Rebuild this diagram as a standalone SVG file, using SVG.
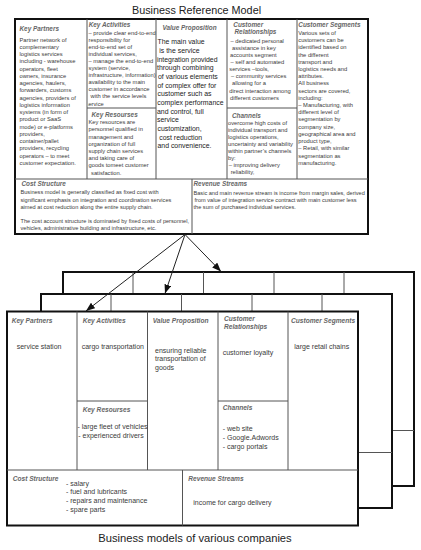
<svg xmlns="http://www.w3.org/2000/svg" xmlns:xlink="http://www.w3.org/1999/xlink" width="421" height="550" viewBox="0 0 421 550">
<style>
text { font-family: "Liberation Sans", Arial, sans-serif; }
.ti { font-size: 10.8px; fill: #222; }
.cap { font-size: 11.2px; fill: #222; }
.h { font-size: 6.4px; font-weight: bold; font-style: italic; fill: #666; }
.hf { font-size: 6.6px; font-weight: bold; font-style: italic; fill: #666; }
.t { font-size: 5.75px; fill: #3a3a3a; }
.tc { font-size: 5.6px; fill: #3a3a3a; }
.vp { font-size: 6.9px; fill: #222; }
.b { font-size: 7px; fill: #3a3a3a; }
.outer { fill: #fff; stroke: #111; stroke-width: 2; }
.div { fill: none; stroke: #555; stroke-width: 1; }
.con { stroke: #222; stroke-width: 1; fill: none; }
</style>
<defs>
<marker id="ah" markerUnits="userSpaceOnUse" markerWidth="9" markerHeight="7" refX="9" refY="3.5" orient="auto">
<path d="M0,0 L9,3.5 L0,7 z" fill="#111"/>
</marker>
<clipPath id="clipKA"><rect x="88" y="19" width="68" height="89"/></clipPath>
<g id="grid">
<rect class="outer" x="0" y="0" width="351" height="214"/>
<path class="div" d="M70 0 V158.5 M140.5 0 V158.5 M211 0 V158.5 M281 0 V158.5 M70 89.5 H140.5 M211 89.5 H281 M0 158.5 H351 M175.5 158.5 V214"/>
</g>
</defs>
<rect width="421" height="550" fill="#fff"/>

<g id="title">
<text class="ti" x="132" y="13.5">Business Reference Model</text>
</g>

<g id="reference-model">
<rect class="outer" x="15" y="19" width="353" height="215"/>
<path class="div" d="M87 19 V179 M156 19 V179 M227 19 V179 M297 19 V179 M87 108 H156 M227 108 H297 M15 179 H368 M192 179 V234"/>

<g id="ref-key-partners">
<text class="h" x="19.5" y="30.5">Key Partners</text>
<text class="t">
<tspan x="19.5" y="41.5">Partner network of</tspan>
<tspan x="19.5" y="48.8">complementary</tspan>
<tspan x="19.5" y="56">logistics services</tspan>
<tspan x="19.5" y="63.3">including - warehouse</tspan>
<tspan x="19.5" y="70.5">operators, fleet</tspan>
<tspan x="19.5" y="77.8">owners, insurance</tspan>
<tspan x="19.5" y="85.1">agencies, haulers,</tspan>
<tspan x="19.5" y="92.3">forwarders, customs</tspan>
<tspan x="19.5" y="99.6">agencies, providers of</tspan>
<tspan x="19.5" y="106.8">logistics information</tspan>
<tspan x="19.5" y="114.1">systems (in form of</tspan>
<tspan x="19.5" y="121.4">product or SaaS</tspan>
<tspan x="19.5" y="128.6">mode) or e-platforms</tspan>
<tspan x="19.5" y="135.9">providers,</tspan>
<tspan x="19.5" y="143.1">container/pallet</tspan>
<tspan x="19.5" y="150.4">providers, recycling</tspan>
<tspan x="19.5" y="157.7">operators – to meet</tspan>
<tspan x="19.5" y="164.9">customer expectation.</tspan>
</text>
</g>

<g id="ref-key-activities" clip-path="url(#clipKA)">
<text class="h" x="88.7" y="26.5">Key Activities</text>
<text class="t">
<tspan x="88.5" y="34.5">– provide clear end-to-end</tspan>
<tspan x="88.5" y="41.6">responsibility for</tspan>
<tspan x="88.5" y="48.7">end-to-end set of</tspan>
<tspan x="88.5" y="55.8">individual services,</tspan>
<tspan x="88.5" y="62.9">– manage the end-to-end</tspan>
<tspan x="88.5" y="70">system (service,</tspan>
<tspan x="88.5" y="77.1">infrastructure, information)</tspan>
<tspan x="88.5" y="84.2">availability to the main</tspan>
<tspan x="88.5" y="91.3">customer in accordance</tspan>
<tspan x="90.5" y="98.4">with the service levels</tspan>
<tspan x="85.5" y="105.5">service</tspan>
</text>
</g>

<g id="ref-key-resourses">
<text class="h" x="91.5" y="116.5">Key Resourses</text>
<text class="t">
<tspan x="88.5" y="124">Key resources are</tspan>
<tspan x="88.5" y="131.2">personnel qualified in</tspan>
<tspan x="88.5" y="138.5">management and</tspan>
<tspan x="88.5" y="145.7">organization of full</tspan>
<tspan x="88.5" y="153">supply chain services</tspan>
<tspan x="88.5" y="160.2">and taking care of</tspan>
<tspan x="88.5" y="167.4">goods tomeet customer</tspan>
<tspan x="91" y="174.7">satisfaction.</tspan>
</text>
</g>

<g id="ref-value-proposition">
<text class="h" x="162.5" y="30">Value Proposition</text>
<text class="vp">
<tspan x="157.5" y="44.2">The main value</tspan>
<tspan x="159.3" y="52.9">is the service</tspan>
<tspan x="157" y="61.5">integration provided</tspan>
<tspan x="157" y="70.2">through combining</tspan>
<tspan x="158" y="78.9">of various elements</tspan>
<tspan x="157.5" y="87.5">of complex offer for</tspan>
<tspan x="157.5" y="96.2">customer such as</tspan>
<tspan x="157.3" y="104.9">complex performance</tspan>
<tspan x="157" y="113.6">and control, full</tspan>
<tspan x="157" y="122.2">service</tspan>
<tspan x="157.5" y="130.9">customization,</tspan>
<tspan x="159.3" y="139.5">cost reduction</tspan>
<tspan x="157.5" y="148.2">and convenience.</tspan>
</text>
</g>

<g id="ref-customer-relationships">
<text class="h"><tspan x="233.3" y="26.5">Customer</tspan><tspan x="234.5" y="34">Relationships</tspan></text>
<text class="t">
<tspan x="230.5" y="42.5">– dedicated personal</tspan>
<tspan x="232" y="49.65">assistance in key</tspan>
<tspan x="230" y="56.8">accounts segment</tspan>
<tspan x="230.5" y="63.95">– self and automated</tspan>
<tspan x="229.3" y="71.1">services –tools,</tspan>
<tspan x="231" y="78.25">– community services</tspan>
<tspan x="232" y="85.4">allowing for a</tspan>
<tspan x="229.3" y="92.55">direct interaction among</tspan>
<tspan x="230" y="99.7">different customers</tspan>
</text>
</g>

<g id="ref-channels">
<text class="h" x="232" y="117.5">Channels</text>
<text class="t">
<tspan x="228" y="124.5">overcome high costs of</tspan>
<tspan x="228" y="131.55">individual transport and</tspan>
<tspan x="228" y="138.6">logistics operations,</tspan>
<tspan x="228" y="145.65">uncertainty and variability</tspan>
<tspan x="228" y="152.7">within partner’s channels</tspan>
<tspan x="228" y="159.75">by:</tspan>
<tspan x="228.7" y="166.8">– improving delivery</tspan>
<tspan x="230.7" y="173.85">reliability,</tspan>
</text>
</g>

<g id="ref-customer-segments">
<text class="h" x="298.3" y="27">Customer Segments</text>
<text class="t">
<tspan x="298.3" y="34.8">Various sets of</tspan>
<tspan x="298.3" y="42">customers can be</tspan>
<tspan x="298.3" y="49.2">identified based on</tspan>
<tspan x="298.3" y="56.5">the different</tspan>
<tspan x="298.3" y="63.7">transport and</tspan>
<tspan x="298.3" y="70.9">logistics needs and</tspan>
<tspan x="298.3" y="78.1">attributes.</tspan>
<tspan x="298.3" y="85.3">All business</tspan>
<tspan x="298.3" y="92.6">sectors are covered,</tspan>
<tspan x="298.3" y="99.8">including:</tspan>
<tspan x="298.3" y="107">– Manufacturing, with</tspan>
<tspan x="298.3" y="114.2">different level of</tspan>
<tspan x="298.3" y="121.4">segmentation by</tspan>
<tspan x="298.3" y="128.7">company size,</tspan>
<tspan x="298.3" y="135.9">geographical area and</tspan>
<tspan x="298.3" y="143.1">product type,</tspan>
<tspan x="298.3" y="150.3">– Retail, with similar</tspan>
<tspan x="298.3" y="157.5">segmentation as</tspan>
<tspan x="298.3" y="164.8">manufacturing.</tspan>
</text>
</g>

<g id="ref-cost-structure">
<text class="h" x="21.5" y="186">Cost Structure</text>
<text class="tc">
<tspan x="20.5" y="194.3">Business model is generally classified as fixed cost with</tspan>
<tspan x="20.5" y="201.5">significant emphasis on integration and coordination services</tspan>
<tspan x="20.5" y="208.7">aimed at cost reduction along the entire supply chain.</tspan>
<tspan x="20.5" y="223.1">The cost account structure is dominated by fixed costs of personnel,</tspan>
<tspan x="20.5" y="230.3">vehicles, administrative building and infrastructure, etc.</tspan>
</text>
</g>

<g id="ref-revenue-streams">
<text class="h" x="193.5" y="186">Revenue Streams</text>
<text class="tc">
<tspan x="193.5" y="195">Basic and main revenue stream is income from margin sales, derived</tspan>
<tspan x="194.5" y="202.2">from value of integration service contract with main customer less</tspan>
<tspan x="193.5" y="209.4">the sum of purchased individual services.</tspan>
</text>
</g>
</g>

<g id="layer-back">
<use xlink:href="#grid" href="#grid" transform="translate(63,272)"/>
</g>
<g id="layer-middle">
<use xlink:href="#grid" href="#grid" transform="translate(41,294)"/>
</g>

<g id="layer-front">
<use xlink:href="#grid" href="#grid" transform="translate(7,311.5)"/>
<g id="front-key-partners">
<text class="hf" x="11.7" y="323.3">Key Partners</text>
<text class="b" x="16.7" y="348.5">service station</text>
</g>
<g id="front-key-activities">
<text class="hf" x="82.7" y="323.3">Key Activities</text>
<text class="b" x="81.7" y="348.5">cargo transportation</text>
</g>
<g id="front-key-resourses">
<text class="hf" x="82.7" y="412.3">Key Resourses</text>
<text class="b"><tspan x="77.5" y="428.8">- large fleet of vehicles</tspan><tspan x="78.3" y="437.5">- experienced drivers</tspan></text>
</g>
<g id="front-value-proposition">
<text class="hf" x="152.7" y="323.3">Value Proposition</text>
<text class="b"><tspan x="155" y="352.8">ensuring reliable</tspan><tspan x="155" y="361.3">transportation of</tspan><tspan x="155" y="369.8">goods</tspan></text>
</g>
<g id="front-customer-relationships">
<text class="hf"><tspan x="224" y="321.3">Customer</tspan><tspan x="224" y="329">Relationships</tspan></text>
<text class="b" x="222.7" y="354.8">customer loyalty</text>
</g>
<g id="front-channels">
<text class="hf" x="222.7" y="410.3">Channels</text>
<text class="b"><tspan x="222.7" y="431.3">- web site</tspan><tspan x="222.7" y="440">- Google.Adwords</tspan><tspan x="222.7" y="448.8">- cargo portals</tspan></text>
</g>
<g id="front-customer-segments">
<text class="hf" x="291" y="323.3">Customer Segments</text>
<text class="b" x="294.3" y="349">large retail chains</text>
</g>
<g id="front-cost-structure">
<text class="hf" x="12.7" y="480.6">Cost Structure</text>
<text class="b"><tspan x="66" y="485.8">- salary</tspan><tspan x="66" y="494.4">- fuel and lubricants</tspan><tspan x="66" y="503">- repairs and maintenance</tspan><tspan x="66" y="511.5">- spare parts</tspan></text>
</g>
<g id="front-revenue-streams">
<text class="hf" x="188.3" y="480.6">Revenue Streams</text>
<text class="b" x="193.3" y="505">income for cargo delivery</text>
</g>
</g>

<g id="connectors">
<line class="con" x1="185" y1="234.5" x2="86" y2="311" marker-end="url(#ah)"/>
<line class="con" x1="185" y1="234.5" x2="165" y2="293.5" marker-end="url(#ah)"/>
<line class="con" x1="185" y1="234.5" x2="221" y2="271.5" marker-end="url(#ah)"/>
</g>

<g id="caption">
<text class="cap" x="98.3" y="542">Business models of various companies</text>
</g>
</svg>
